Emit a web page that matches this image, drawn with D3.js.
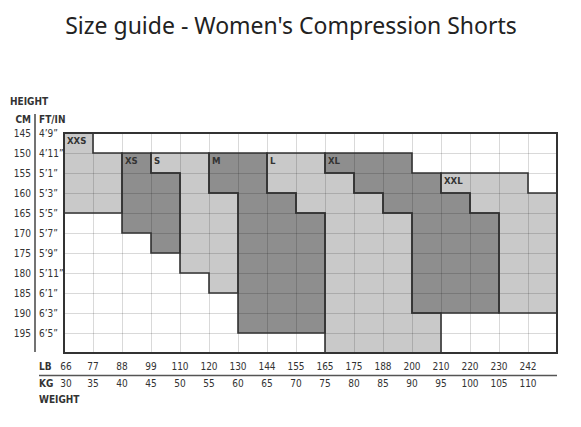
<!DOCTYPE html>
<html>
<head>
<meta charset="utf-8">
<script src="https://cdn.jsdelivr.net/npm/d3@7.9.0/dist/d3.min.js"></script>
<style>
  body { margin: 0; background: #fff; }
  text { font-family: "DejaVu Sans Condensed", "Liberation Sans Narrow", Roboto, sans-serif; font-stretch: condensed; fill: #333; }
  .title { font-family: "Noto Sans", "Open Sans", sans-serif; font-stretch: normal; fill: #222; }
</style>
</head>
<body>
<svg id="chart" width="581" height="427"></svg>
<script>
// height ticks (cm and ft/in)
const cmTicks = [145, 150, 155, 160, 165, 170, 175, 180, 185, 190, 195];
const ftTicks = ["4’9”", "4’11”", "5’1”", "5’3”", "5’5”", "5’7”", "5’9”", "5’11”", "6’1”", "6’3”", "6’5”"];

// weight ticks (kg and lb)
const kgTicks = [30, 35, 40, 45, 50, 55, 60, 65, 70, 75, 80, 85, 90, 95, 100, 105, 110];
const lbTicks = [66, 77, 88, 99, 110, 120, 130, 144, 155, 165, 175, 188, 200, 210, 220, 230, 242];

// each size = list of weight columns: [kg start, cm top, cm bottom]
const xxsCols = [[30, 145, 165], [35, 150, 165]];
const xsCols = [[40, 150, 170], [45, 155, 175]];
const sCols = [[45, 150, 155], [50, 150, 180], [55, 160, 185]];
const mCols = [[55, 150, 160], [60, 150, 195], [65, 160, 195], [70, 165, 195]];
const lCols = [[65, 150, 160], [70, 150, 165], [75, 155, 200], [80, 160, 200], [85, 165, 200], [90, 190, 200]];
const xlCols = [[75, 150, 155], [80, 150, 160], [85, 150, 165], [90, 155, 190], [95, 160, 190], [100, 165, 190]];
const xxlCols = [[95, 155, 160], [100, 155, 165], [105, 155, 190], [110, 160, 190]];

const sizeNames = ["XXS", "XS", "S", "M", "L", "XL", "XXL"];
const sizeCols = [xxsCols, xsCols, sCols, mCols, lCols, xlCols, xxlCols];

const colStep = 5;
const lightFill = "#c9c9c9";
const darkFill = "#8e8e8e";

const svg = d3.select("#chart");

// scales for the grid
const x = d3.scaleLinear().domain([30, 115]).range([64, 557]);
const y = d3.scaleLinear().domain([145, 200]).range([133, 353]);

// title
svg.append("text")
  .attr("class", "title")
  .attr("x", 291).attr("y", 34)
  .attr("text-anchor", "middle")
  .attr("font-size", 23)
  .text("Size guide - Women's Compression Shorts");

// white background of the grid
svg.append("rect")
  .attr("x", x(30)).attr("y", y(145))
  .attr("width", x(115) - x(30)).attr("height", y(200) - y(145))
  .attr("fill", "#fff");

// outline path for a size from its columns
function outline(cols) {
  const top = [], bot = [];
  cols.forEach(([kg, t, b]) => {
    top.push([x(kg), y(t)], [x(kg + colStep), y(t)]);
    bot.unshift([x(kg + colStep), y(b)], [x(kg), y(b)]);
  });
  return d3.line()(top.concat(bot)) + "Z";
}

// size fills
const sizes = sizeNames.map((name, i) => ({ name, cols: sizeCols[i], dark: i % 2 === 1 }));

svg.append("g").selectAll("path")
  .data(sizes)
  .join("path")
  .attr("d", d => outline(d.cols))
  .attr("fill", d => d.dark ? darkFill : lightFill);

// grid lines on top of fills
const grid = svg.append("g")
  .attr("stroke", "rgba(0,0,0,0.15)")
  .attr("stroke-width", 1);

grid.selectAll(".v")
  .data(d3.range(35, 115, colStep))
  .join("line")
  .attr("x1", d => x(d) + 0.5).attr("x2", d => x(d) + 0.5)
  .attr("y1", y(145)).attr("y2", y(200));

grid.selectAll(".h")
  .data(cmTicks.slice(1))
  .join("line")
  .attr("y1", d => y(d) + 0.5).attr("y2", d => y(d) + 0.5)
  .attr("x1", x(30)).attr("x2", x(115));

// size outlines
svg.append("g").selectAll("path")
  .data(sizes)
  .join("path")
  .attr("d", d => outline(d.cols))
  .attr("fill", "none")
  .attr("stroke", "#333")
  .attr("stroke-width", 1.6)
  .attr("stroke-linejoin", "miter");

// size labels
svg.append("g").selectAll("text")
  .data(sizes)
  .join("text")
  .attr("x", d => x(d.cols[0][0]) + 3)
  .attr("y", d => y(d.cols[0][1]) + 11)
  .attr("font-size", 9.5)
  .attr("font-weight", "bold")
  .text(d => d.name);

// grid border
svg.append("rect")
  .attr("x", x(30)).attr("y", y(145))
  .attr("width", x(115) - x(30)).attr("height", y(200) - y(145))
  .attr("fill", "none")
  .attr("stroke", "#333")
  .attr("stroke-width", 2);

// height axis
svg.append("text").attr("x", 10).attr("y", 105)
  .attr("font-size", 10).attr("font-weight", "bold").text("HEIGHT");
svg.append("text").attr("x", 31).attr("y", 123).attr("text-anchor", "end")
  .attr("font-size", 10).attr("font-weight", "bold").text("CM");
svg.append("text").attr("x", 39).attr("y", 123)
  .attr("font-size", 10).attr("font-weight", "bold").text("FT/IN");

svg.append("line")
  .attr("x1", 35).attr("x2", 35).attr("y1", 114).attr("y2", 352)
  .attr("stroke", "#444").attr("stroke-width", 1.5);

svg.append("g").selectAll("text")
  .data(cmTicks)
  .join("text")
  .attr("x", 31).attr("y", d => y(d) + 4)
  .attr("text-anchor", "end")
  .attr("font-size", 10)
  .text(d => d);

svg.append("g").selectAll("text")
  .data(ftTicks)
  .join("text")
  .attr("x", 39).attr("y", (d, i) => y(cmTicks[i]) + 4)
  .attr("font-size", 10)
  .text(d => d);

// weight axis
svg.append("text").attr("x", 39).attr("y", 370)
  .attr("font-size", 10).attr("font-weight", "bold").text("LB");
svg.append("text").attr("x", 39).attr("y", 387)
  .attr("font-size", 10).attr("font-weight", "bold").text("KG");
svg.append("text").attr("x", 39).attr("y", 403)
  .attr("font-size", 10).attr("font-weight", "bold").text("WEIGHT");

svg.append("line")
  .attr("x1", 39).attr("x2", x(115)).attr("y1", 375.5).attr("y2", 375.5)
  .attr("stroke", "#555").attr("stroke-width", 1.5);

svg.append("g").selectAll("text")
  .data(lbTicks)
  .join("text")
  .attr("x", (d, i) => x(kgTicks[i]) + (i === 0 ? 2 : 0))
  .attr("y", 370)
  .attr("text-anchor", "middle")
  .attr("font-size", 10)
  .text(d => d);

svg.append("g").selectAll("text")
  .data(kgTicks)
  .join("text")
  .attr("x", (d, i) => x(d) + (i === 0 ? 2 : 0))
  .attr("y", 387)
  .attr("text-anchor", "middle")
  .attr("font-size", 10)
  .text(d => d);
</script>
</body>
</html>
